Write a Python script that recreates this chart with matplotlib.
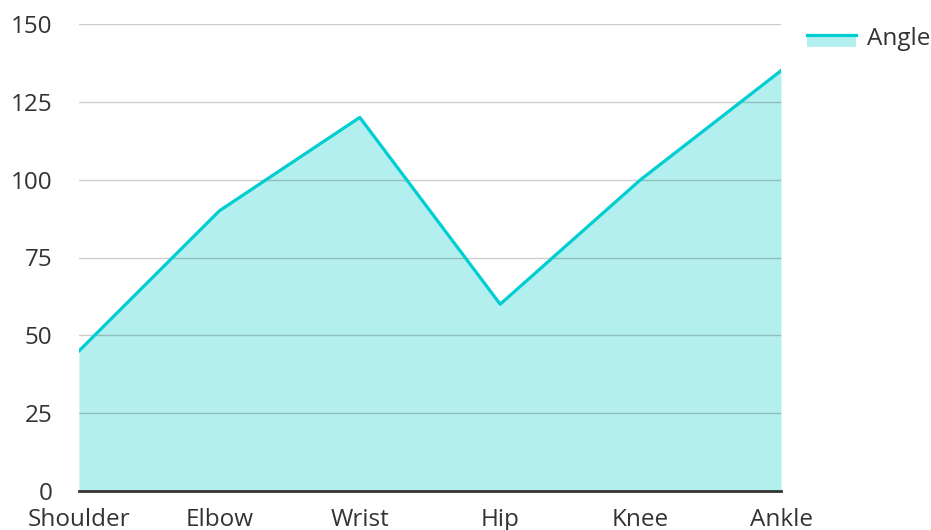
import matplotlib
matplotlib.use("Agg")
import matplotlib.pyplot as plt
from matplotlib.patches import Rectangle
from matplotlib.lines import Line2D
from matplotlib.legend_handler import HandlerBase

categories = ["Shoulder", "Elbow", "Wrist", "Hip", "Knee", "Ankle"]
angles = [45, 90, 120, 60, 100, 135]
y_ticks = [0, 25, 50, 75, 100, 125, 150]

line_color = "#00CED1"
fill_color = "#B2EFEE"
text_color = "#333333"

plt.rcParams['font.family'] = ['Open Sans', 'Noto Sans', 'DejaVu Sans']

fig = plt.figure(figsize=(9.31, 5.30), dpi=100)
ax = fig.add_axes([79/931, 1-491/530, (781-79)/931, (491-24)/530])

x = list(range(len(categories)))
ax.fill_between(x, angles, 0, color=fill_color, lw=0, zorder=1)
ax.plot(x, angles, color=line_color, lw=2.3, zorder=3)

ax.set_xlim(0, len(categories) - 1)
ax.set_ylim(0, 150)
ax.set_yticks(y_ticks)
ax.set_xticks(x)
ax.set_xticklabels(categories)
for t in y_ticks[1:]:
    ax.axhline(t, color="black", alpha=0.2, lw=1, zorder=2)
ax.axhline(0, color="#333333", lw=2, zorder=4, clip_on=False)

for s in ax.spines.values():
    s.set_visible(False)
ax.tick_params(axis='both', length=0, labelsize=17.5, colors=text_color)
ax.tick_params(axis='y', pad=19)
ax.tick_params(axis='x', pad=12)


class FillLineHandler(HandlerBase):
    def create_artists(self, legend, orig_handle, xdescent, ydescent, width, height, fontsize, trans):
        yl = -ydescent + height * 0.6
        r = Rectangle((-xdescent, yl - 8.5), width, 8.0,
                      facecolor=fill_color, edgecolor='none', transform=trans)
        l = Line2D([-xdescent, -xdescent + width], [yl, yl], color=line_color, lw=2.3, transform=trans)
        return [r, l]


handle = Rectangle((0, 0), 1, 1)
leg = fig.legend([handle], ["Angle"], handler_map={Rectangle: FillLineHandler()},
                 loc='upper left', bbox_to_anchor=(807/931, 1-27/530), frameon=False,
                 fontsize=17.5, handlelength=2.0, handletextpad=0.45, borderaxespad=0, borderpad=0)
for t in leg.get_texts():
    t.set_color(text_color)

fig.savefig("out.png", dpi=100)
